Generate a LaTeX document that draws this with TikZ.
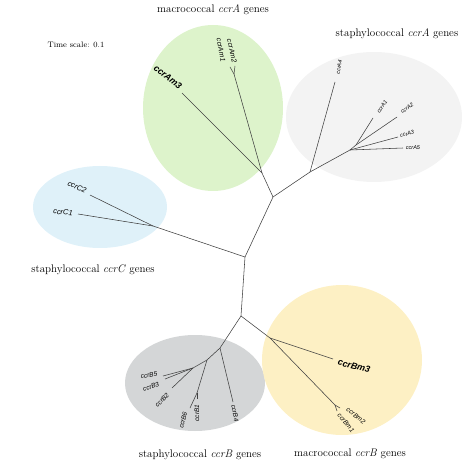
\documentclass[tikz,border=0pt]{standalone}
\usepackage{fontspec}
\setsansfont{Liberation Sans}
\begin{document}
\begin{tikzpicture}[x=1pt,y=-1pt,
  br/.style={draw=black!75,line width=0.55pt},
  head/.style={font=\fontsize{11}{13}\selectfont},
  labA/.style={font=\sffamily\itshape\fontsize{5.5}{6}\selectfont,inner sep=0pt},
  labB/.style={font=\sffamily\itshape\fontsize{6.5}{7}\selectfont,inner sep=0pt},
  labC/.style={font=\sffamily\itshape\fontsize{7.5}{8}\selectfont,inner sep=0pt},
  labM/.style={font=\sffamily\itshape\fontsize{7}{8}\selectfont,inner sep=0pt},
  labX/.style={font=\sffamily\bfseries\itshape\fontsize{9}{10}\selectfont,inner sep=0pt},
  pt/.style={inner sep=0pt,minimum size=0pt}]
\useasboundingbox (0,0) rectangle (474,473);
% clusters
\definecolor{cgreen}{HTML}{DDF3CB}
\definecolor{cgrayl}{HTML}{F3F3F3}
\definecolor{cblue}{HTML}{DFF1F9}
\definecolor{cgrayd}{HTML}{D4D6D7}
\definecolor{cyell}{HTML}{FDF0C4}
\fill[cgreen] (213,108) ellipse [x radius=70,y radius=83];
\fill[cgrayl] (374,117) ellipse [x radius=88,y radius=65];
\fill[cblue] (100,207) ellipse [x radius=67,y radius=41];
\fill[cgrayd] (195,383) ellipse [x radius=70,y radius=48];
\fill[cyell] (342,360) ellipse [x radius=80,y radius=75];
% headings
\node[head] (hmA) at (213,10) {macrococcal \textit{ccrA} genes};
\node[head] (hsA) at (397,34) {staphylococcal \textit{ccrA} genes};
\node[head] (hsC) at (93,270) {staphylococcal \textit{ccrC} genes};
\node[head] (hsB) at (200,455) {staphylococcal \textit{ccrB} genes};
\node[head] (hmB) at (350,454) {macrococcal \textit{ccrB} genes};
\node[font=\fontsize{8}{9}\selectfont] (ts) at (76,45) {Time scale: 0.1};
% internal nodes
\coordinate (A) at (273,197);
\coordinate (B) at (245,257);
\coordinate (C) at (241,316);
\coordinate (mA) at (262,173);
\coordinate (mA12) at (234,74);
\coordinate (sA4) at (310,172);
\coordinate (sAJ) at (350,150);
\coordinate (sAK) at (356,145);
\coordinate (sC) at (153,226);
\coordinate (sB) at (220,348);
\coordinate (sB2) at (207,360);
\coordinate (sB3) at (193,368);
\coordinate (sB1) at (197,393);
\coordinate (mB) at (270,338);
\coordinate (mB12) at (335,405);
% leaves
\coordinate (lAm3) at (182,93);
\coordinate (lAm1) at (230,67);
\coordinate (lAm2) at (235,66);
\coordinate (lA4) at (335,82);
\coordinate (lA1) at (373,118);
\coordinate (lA2) at (397,117);
\coordinate (lA3) at (398,137);
\coordinate (lA5) at (403,148);
\coordinate (lC2) at (90,195);
\coordinate (lC1) at (78,214);
\coordinate (lB5) at (163,376);
\coordinate (lB3) at (165,379);
\coordinate (lB2) at (172,388);
\coordinate (lB1) at (197,399);
\coordinate (lB6) at (190,408);
\coordinate (lB4) at (233,402);
\coordinate (lBm3) at (333,359);
\coordinate (lBm2) at (340,408);
\coordinate (lBm1) at (337,411);
% branches
\draw[br] (mA) -- (A) -- (B) -- (C);
\draw[br] (mA) -- (lAm3);
\draw[br] (mA) -- (mA12);
\draw[br] (mA12) -- (lAm1);
\draw[br] (mA12) -- (lAm2);
\draw[br] (A) -- (sA4) -- (sAJ);
\draw[br] (sA4) -- (lA4);
\draw[br] (sAJ) -- (sAK);
\draw[br] (sAK) -- (lA1);
\draw[br] (sAK) -- (lA2);
\draw[br] (sAJ) -- (lA3);
\draw[br] (sAJ) -- (lA5);
\draw[br] (B) -- (sC);
\draw[br] (sC) -- (lC2);
\draw[br] (sC) -- (lC1);
\draw[br] (C) -- (sB) -- (sB2) -- (sB3);
\draw[br] (sB) -- (lB4);
\draw[br] (sB2) -- (sB1);
\draw[br] (sB1) -- (lB1);
\draw[br] (sB1) -- (lB6);
\draw[br] (sB3) -- (lB5);
\draw[br] (sB3) -- (lB3);
\draw[br] (sB3) -- (lB2);
\draw[br] (C) -- (mB);
\draw[br] (mB) -- (lBm3);
\draw[br] (mB) -- (mB12);
\draw[br] (mB12) -- (lBm2);
\draw[br] (mB12) -- (lBm1);
% labels
\node[labX,rotate=-39] (tAm3) at (168,77) {ccrAm3};
\node[labM,rotate=-80] (tAm1) at (221,50) {ccrAm1};
\node[labM,rotate=-77] (tAm2) at (232,51) {ccrAm2};
\node[labA,rotate=80] (tA4) at (339,67) {ccrA4};
\node[labA,rotate=55] (tA1) at (382,107) {ccrA1};
\node[labA,rotate=35] (tA2) at (407,108) {ccrA2};
\node[labA,rotate=15] (tA3) at (407,134) {ccrA3};
\node[labA] (tA5) at (413,148) {ccrA5};
\node[labC,rotate=-25] (tC2) at (77,187) {ccrC2};
\node[labC,rotate=-5] (tC1) at (63,212) {ccrC1};
\node[labB,rotate=10] (tB5) at (149,375) {ccrB5};
\node[labB,rotate=20] (tB3) at (151,387) {ccrB3};
\node[labB,rotate=45] (tB2) at (162,400) {ccrB2};
\node[labB,rotate=75] (tB6) at (183,420) {ccrB6};
\node[labB,rotate=90] (tB1) at (197,413) {ccrB1};
\node[labB,rotate=-80] (tB4) at (235,413) {ccrB4};
\node[labX,rotate=-15] (tBm3) at (354,366) {ccrBm3};
\node[labB,rotate=-38] (tBm2) at (356,416) {ccrBm2};
\node[labB,rotate=-50] (tBm1) at (346,423) {ccrBm1};
\end{tikzpicture}
\end{document}
